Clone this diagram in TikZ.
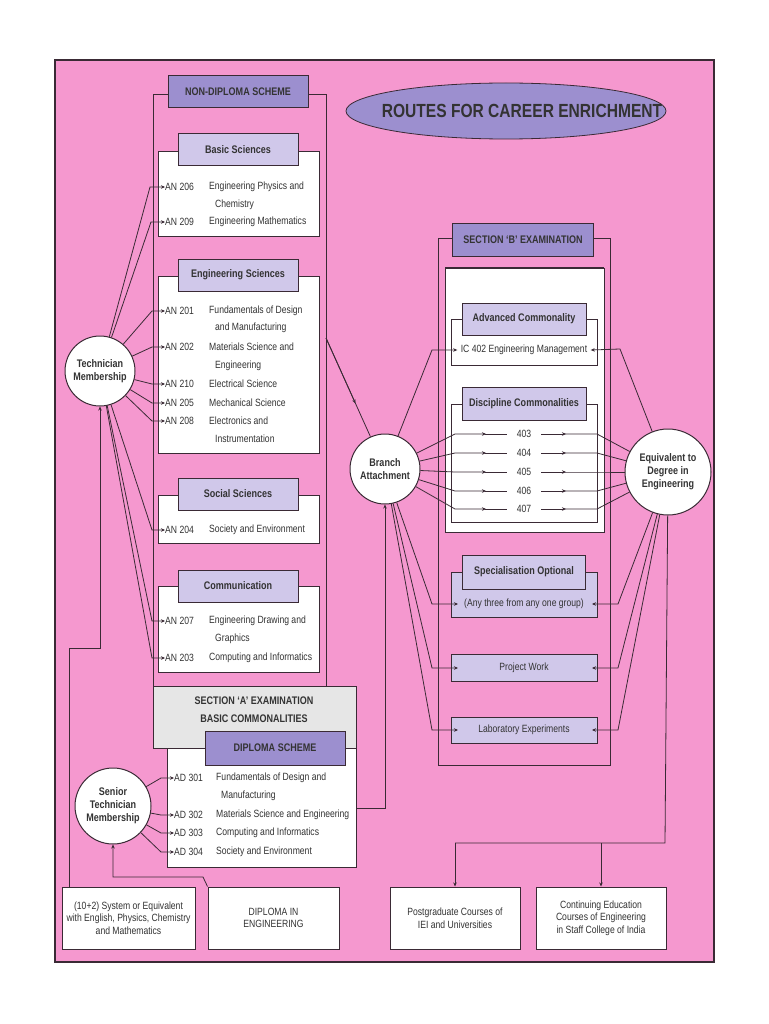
\documentclass[tikz,border=0pt]{standalone}
\usepackage{fontspec}
\setmainfont{Liberation Sans}[FakeStretch=0.82]
\usetikzlibrary{arrows.meta,shapes.geometric,calc}
\definecolor{pinkbg}{HTML}{F598CF}
\definecolor{darkhd}{HTML}{9C8FCF}
\definecolor{lighthd}{HTML}{D0C8EA}
\definecolor{grayhd}{HTML}{E6E6E6}
\definecolor{ln}{HTML}{3A2A35}
\begin{document}
\begin{tikzpicture}[x=1pt,y=-1pt,
  every node/.style={font=\fontsize{10.5}{12.5}\selectfont, text=black!80},
  frame/.style={draw=ln, line width=0.6pt},
  box/.style={draw=ln, line width=1pt, fill=white},
  dhd/.style={draw=ln, line width=1pt, fill=darkhd, font=\bfseries\fontsize{11}{13}\selectfont, inner sep=0pt},
  lhd/.style={draw=ln, line width=1pt, fill=lighthd, font=\bfseries\fontsize{11}{13}\selectfont, inner sep=0pt},
  circ/.style={circle, draw=ln, line width=1pt, fill=white, font=\bfseries\fontsize{11}{13}\selectfont, align=center, inner sep=0pt},
  code/.style={anchor=west, inner sep=0pt},
  bbox/.style={draw=ln, line width=1pt, fill=white, align=center, inner sep=0pt},
  con/.style={draw=ln, line width=0.8pt},
  arr/.style={con, -{Stealth[length=4pt,width=3.5pt]}}
]
\useasboundingbox (0,0) rectangle (768,1024);
\fill[white] (0,0) rectangle (768,1024);
\draw[fill=pinkbg, draw=ln, line width=1.5pt] (55,60) rectangle (714,962);

% title
\draw[draw=ln, line width=0.8pt, fill=darkhd] (506,111) ellipse [x radius=160pt, y radius=28pt];
\node[font=\bfseries\fontsize{19}{22}\selectfont, inner sep=0pt] (title) at (522,111) {ROUTES FOR CAREER ENRICHMENT};

% non-diploma frame
\draw[frame] (153,94) rectangle (326,686);
\node[dhd, minimum width=140pt, minimum height=32pt] (nds) at (238,92) {NON-DIPLOMA SCHEME};

% Basic sciences
\draw[box] (158,152) rectangle (319,236);
\node[lhd, minimum width=120pt, minimum height=32pt] (bs) at (238,150) {Basic Sciences};
\node[code] (an206) at (165,187) {AN 206};
\node[code] at (209,187) {Engineering Physics and};
\node[code] at (215,205) {Chemistry};
\node[code] (an209) at (165,222) {AN 209};
\node[code] at (209,222) {Engineering Mathematics};

% Engineering sciences
\draw[box] (158,276) rectangle (319,453);
\node[lhd, minimum width=120pt, minimum height=32pt] (es) at (238,275) {Engineering Sciences};
\node[code] (an201) at (165,311) {AN 201};
\node[code] at (209,311) {Fundamentals of Design};
\node[code] at (215,328) {and Manufacturing};
\node[code] (an202) at (165,347) {AN 202};
\node[code] at (209,347) {Materials Science and};
\node[code] at (215,366) {Engineering};
\node[code] (an210) at (165,384) {AN 210};
\node[code] at (209,384) {Electrical Science};
\node[code] (an205) at (165,403) {AN 205};
\node[code] at (209,403) {Mechanical Science};
\node[code] (an208) at (165,421) {AN 208};
\node[code] at (209,421) {Electronics and};
\node[code] at (215,439) {Instrumentation};

% Social sciences
\draw[box] (158,495) rectangle (319,543);
\node[lhd, minimum width=120pt, minimum height=32pt] (ss) at (238,494) {Social Sciences};
\node[code] (an204) at (165,530) {AN 204};
\node[code] at (209,530) {Society and Environment};

% Communication
\draw[box] (158,586) rectangle (319,672);
\node[lhd, minimum width=120pt, minimum height=32pt] (cm) at (238,586) {Communication};
\node[code] (an207) at (165,621) {AN 207};
\node[code] at (209,621) {Engineering Drawing and};
\node[code] at (215,639) {Graphics};
\node[code] (an203) at (165,658) {AN 203};
\node[code] at (209,658) {Computing and Informatics};

% Section A
\node[draw=ln, line width=0.6pt, fill=grayhd, minimum width=203pt, minimum height=62pt, anchor=north west, inner sep=0pt] (secA) at (153,686) {};
\node[font=\bfseries\fontsize{11}{13}\selectfont] at (254,701) {SECTION ‘A’ EXAMINATION};
\node[font=\bfseries\fontsize{11}{13}\selectfont] at (254,719) {BASIC COMMONALITIES};

% Diploma scheme
\draw[box] (167,748) rectangle (356,867);
\node[dhd, minimum width=140pt, minimum height=34pt] (dsch) at (275,748) {DIPLOMA SCHEME};
\node[code] (ad301) at (174,778) {AD 301};
\node[code] at (216,778) {Fundamentals of Design and};
\node[code] at (221,796) {Manufacturing};
\node[code] (ad302) at (174,815) {AD 302};
\node[code] at (216,815) {Materials Science and Engineering};
\node[code] (ad303) at (174,833) {AD 303};
\node[code] at (216,833) {Computing and Informatics};
\node[code] (ad304) at (174,852) {AD 304};
\node[code] at (216,852) {Society and Environment};

% Section B
\draw[frame] (438,238) rectangle (610,765);
\node[dhd, minimum width=141pt, minimum height=32pt] (secB) at (523,240) {SECTION ‘B’ EXAMINATION};
\draw[draw=ln, line width=0.6pt, fill=white] (445,268) rectangle (604,532);
\draw[ln, line width=1.5pt] (445,268) -- (604,268);
\draw[draw=ln, line width=1pt] (451,319) rectangle (597,365);
\node[lhd, minimum width=124pt, minimum height=32pt] (adv) at (524,319) {Advanced Commonality};
\node (ic402) at (524,350) {IC 402 Engineering Management};
\draw[draw=ln, line width=1pt] (451,404) rectangle (597,522);
\node[lhd, minimum width=124pt, minimum height=33pt] (disc) at (524,404) {Discipline Commonalities};
\foreach \n/\y in {403/434,404/453,405/472,406/491,407/509}{
  \node[inner xsep=10pt, inner ysep=1pt] (n\n) at (524,\y) {\n};
}
\draw[draw=ln, line width=1pt, fill=lighthd] (451,572) rectangle (597,617);
\node[lhd, minimum width=123pt, minimum height=34pt] (spec) at (524,572) {Specialisation Optional};
\node (any) at (524,604) {(Any three from any one group)};
\node[draw=ln, line width=1pt, fill=lighthd, minimum width=146pt, minimum height=27pt, inner sep=0pt] (proj) at (524,668) {Project Work};
\node[draw=ln, line width=1pt, fill=lighthd, minimum width=146pt, minimum height=26pt, inner sep=0pt] (lab) at (524,730) {Laboratory Experiments};

% circles
\node[circ, minimum size=70pt] (tm) at (100,371) {Technician\\Membership};
\node[circ, minimum size=76pt] (stm) at (113,806) {Senior\\Technician\\Membership};
\node[circ, minimum size=70pt] (ba) at (385,469) {Branch\\Attachment};
\node[circ, minimum size=86pt] (eq) at (668,472) {Equivalent to\\Degree in\\Engineering};

% bottom boxes
\node[bbox, minimum width=133pt, minimum height=62pt] (b12) at (128.5,918) {(10+2) System or Equivalent\\with English, Physics, Chemistry\\and Mathematics};
\node[bbox, minimum width=131pt, minimum height=62pt] (dip) at (273.5,918) {DIPLOMA IN\\ENGINEERING};
\node[bbox, minimum width=130pt, minimum height=62pt] (pg) at (455,918) {Postgraduate Courses of\\IEI and Universities};
\node[bbox, minimum width=130pt, minimum height=62pt] (ce) at (601,918) {Continuing Education\\Courses of Engineering\\in Staff College of India};

% Technician -> AN codes
\foreach \c/\y/\bx in {an206/187/150,an209/222/151,an201/311/152,an202/347/152,an210/384/152,an205/403/152,an208/421/152,an204/530/152,an207/621/152,an203/658/152}{
  \draw[arr] (tm) -- (\bx,\y) -- (\c.west);
}
% Senior -> AD codes
\foreach \c/\y in {ad301/778,ad302/815,ad303/833,ad304/852}{
  \draw[arr] (stm) -- (161,\y) -- (\c.west);
}
% inputs
\draw[arr] (69,887) -- (69,648) -- (100,648) -- (tm);
\coordinate (dk) at (203,877);
\draw[arr] (dip.north west) -- (dk) -- (113,877) -- (stm);
% to Branch
\draw[arr] (356,808) -- (385,808) -- (ba);
\coordinate (esr) at (326,338);
\draw[con] (esr) -- (ba);
\draw[arr] (esr) -- ($(esr)!0.5!(ba)$);
% Branch/Equivalent -> IC 402
\draw[arr] (ba) -- (432,350) -- (ic402.west);
\draw[arr] (eq) -- (620,349) -- (ic402.east);
% discipline rows
\foreach \n/\y in {403/434,404/453,405/472,406/491,407/509}{
  \draw[arr] (ba) -- (455,\y) -- (486,\y);
  \draw[con] (485,\y) -- (n\n.west);
  \draw[arr] (n\n.east) -- (566,\y);
  \draw[con] (565,\y) -- (597,\y) -- (eq);
}
% Spec, project, lab
\foreach \t/\y in {any/604,proj/668,lab/730}{
  \draw[arr] (ba) -- (432,\y) -- (458,\y);
  \draw[arr] (eq) -- (618,\y) -- (592,\y);
}
% outputs
\draw[con] (eq) -- (665,843) -- (455,843);
\draw[arr] (455,843) -- (pg);
\draw[arr] (601,843) -- (ce);
\end{tikzpicture}
\end{document}
